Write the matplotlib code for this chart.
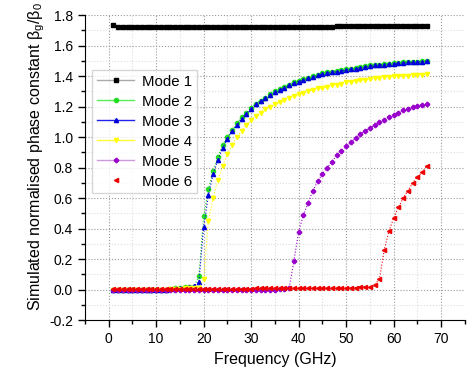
import numpy as np
import matplotlib.pyplot as plt
from matplotlib.lines import Line2D
from matplotlib.ticker import MultipleLocator

plt.rcParams['font.family'] = ['Liberation Sans', 'DejaVu Sans']
plt.rcParams['mathtext.fontset'] = 'custom'
plt.rcParams['mathtext.rm'] = 'Liberation Sans'
plt.rcParams['mathtext.it'] = 'Liberation Sans:italic'

# frequency points (GHz)
freq = np.arange(1, 68)

mode1 = [1.733] + [1.72] * 40 + [1.725] * 6 + [1.73] * 20

mode2 = ([0.0] * 12 + [0.005, 0.01, 0.01, 0.015, 0.015, 0.02, 0.09,
         0.48, 0.66, 0.78, 0.87, 0.95, 1.00, 1.05, 1.09, 1.13, 1.16, 1.19,
         1.22, 1.24, 1.26, 1.28, 1.30, 1.315, 1.33, 1.345, 1.36, 1.37, 1.38,
         1.39, 1.40, 1.41, 1.42, 1.425, 1.43, 1.435, 1.44, 1.445, 1.45, 1.455,
         1.46, 1.465, 1.47, 1.473, 1.476, 1.479, 1.482, 1.485, 1.488, 1.49,
         1.492, 1.494, 1.496, 1.498, 1.50])

mode3 = ([0.0] * 12 + [0.005, 0.005, 0.01, 0.01, 0.015, 0.025, 0.05,
         0.41, 0.62, 0.76, 0.85, 0.93, 0.99, 1.04, 1.08, 1.12, 1.155, 1.185,
         1.215, 1.235, 1.255, 1.275, 1.295, 1.31, 1.325, 1.34, 1.355, 1.365,
         1.375, 1.385, 1.395, 1.405, 1.415, 1.42, 1.425, 1.43, 1.435, 1.44,
         1.445, 1.45, 1.455, 1.46, 1.465, 1.47, 1.473, 1.476, 1.479, 1.482,
         1.485, 1.488, 1.49, 1.492, 1.494, 1.496, 1.498])

mode4 = ([0.0] * 12 + [0.005, 0.005, 0.005, 0.01, 0.01, 0.01, 0.01,
         0.07, 0.45, 0.60, 0.72, 0.81, 0.89, 0.95, 1.00, 1.04, 1.08, 1.11,
         1.14, 1.16, 1.185, 1.20, 1.215, 1.23, 1.245, 1.26, 1.27, 1.28,
         1.29, 1.30, 1.31, 1.32, 1.325, 1.33, 1.34, 1.345, 1.35, 1.36,
         1.365, 1.37, 1.374, 1.378, 1.382, 1.386, 1.389, 1.392, 1.395, 1.398,
         1.40, 1.402, 1.404, 1.406, 1.408, 1.41, 1.412])

mode5 = ([-0.005] * 20 + [0.0] * 15 + [0.005, 0.005, 0.01,
         0.19, 0.38, 0.49, 0.57, 0.65, 0.71, 0.76, 0.80, 0.84, 0.88, 0.91,
         0.94, 0.965, 0.995, 1.02, 1.04, 1.06, 1.08, 1.10, 1.115, 1.13, 1.145,
         1.16, 1.175, 1.185, 1.195, 1.205, 1.21, 1.22])

mode6 = ([0.005] * 30 + [0.008] * 15 + [0.01] * 5 + [0.012, 0.014, 0.015,
         0.017, 0.02, 0.033, 0.07, 0.26, 0.385, 0.47, 0.54, 0.60, 0.65,
         0.70, 0.74, 0.77, 0.81])

labels = ['Mode 1', 'Mode 2', 'Mode 3', 'Mode 4', 'Mode 5', 'Mode 6']
colors = ['black', '#22dd22', '#0000dd', '#ffff00', '#9900cc', '#ee0000']
line_colors = ['#aaaaaa', '#55ee55', '#2222ee', '#ffff33', '#cc99dd', 'none']
markers = ['s', 'o', '^', 'v', 'P', '<']
series = [mode1, mode2, mode3, mode4, mode5, mode6]

fig = plt.figure(figsize=(4.74, 3.89), dpi=100)
ax = fig.add_axes([0.179, 0.177, 0.802, 0.784])

for y, c, m in zip(series, colors, markers):
    ax.plot(freq, y, ls=':', lw=0.8, color=c, marker=m, ms=3, mec=c, mfc=c)

ax.set_xlim(-5, 75)
ax.set_ylim(-0.2, 1.8)
ax.xaxis.set_major_locator(MultipleLocator(10))
ax.xaxis.set_minor_locator(MultipleLocator(5))
ax.yaxis.set_major_locator(MultipleLocator(0.2))
ax.yaxis.set_minor_locator(MultipleLocator(0.1))
ax.yaxis.set_major_formatter(plt.FuncFormatter(lambda v, p: f'{v:.1f}'))
ax.grid(True, which='major', ls=':', color='#999999', lw=0.8)
ax.grid(True, which='minor', ls=':', color='#dddddd', lw=0.8)
ax.set_axisbelow(True)
ax.spines['top'].set_visible(False)
ax.spines['right'].set_visible(False)
ax.tick_params(which='major', direction='out', length=5, width=1, labelsize=10)
ax.tick_params(which='minor', direction='out', length=3, width=1)

ax.set_xlabel('Frequency (GHz)', fontsize=11.5)
fig.text(0.078, 0.2, r'Simulated normalised phase constant $\mathregular{\beta_g/\beta_0}$',
         rotation=90, ha='center', va='bottom', fontsize=11.5)

handles = [Line2D([], [], color=lc, lw=1, marker=m, ms=3, mfc=c, mec=c)
           for lc, c, m in zip(line_colors, colors, markers)]
ax.legend(handles, labels, loc='upper left', bbox_to_anchor=(0.02, 0.82),
          fontsize=10.8, frameon=True, fancybox=False, edgecolor='#cccccc',
          handlelength=2.5, handletextpad=0.5, labelspacing=0.4,
          borderpad=0.3, borderaxespad=0)

fig.savefig('out.png', dpi=100)
